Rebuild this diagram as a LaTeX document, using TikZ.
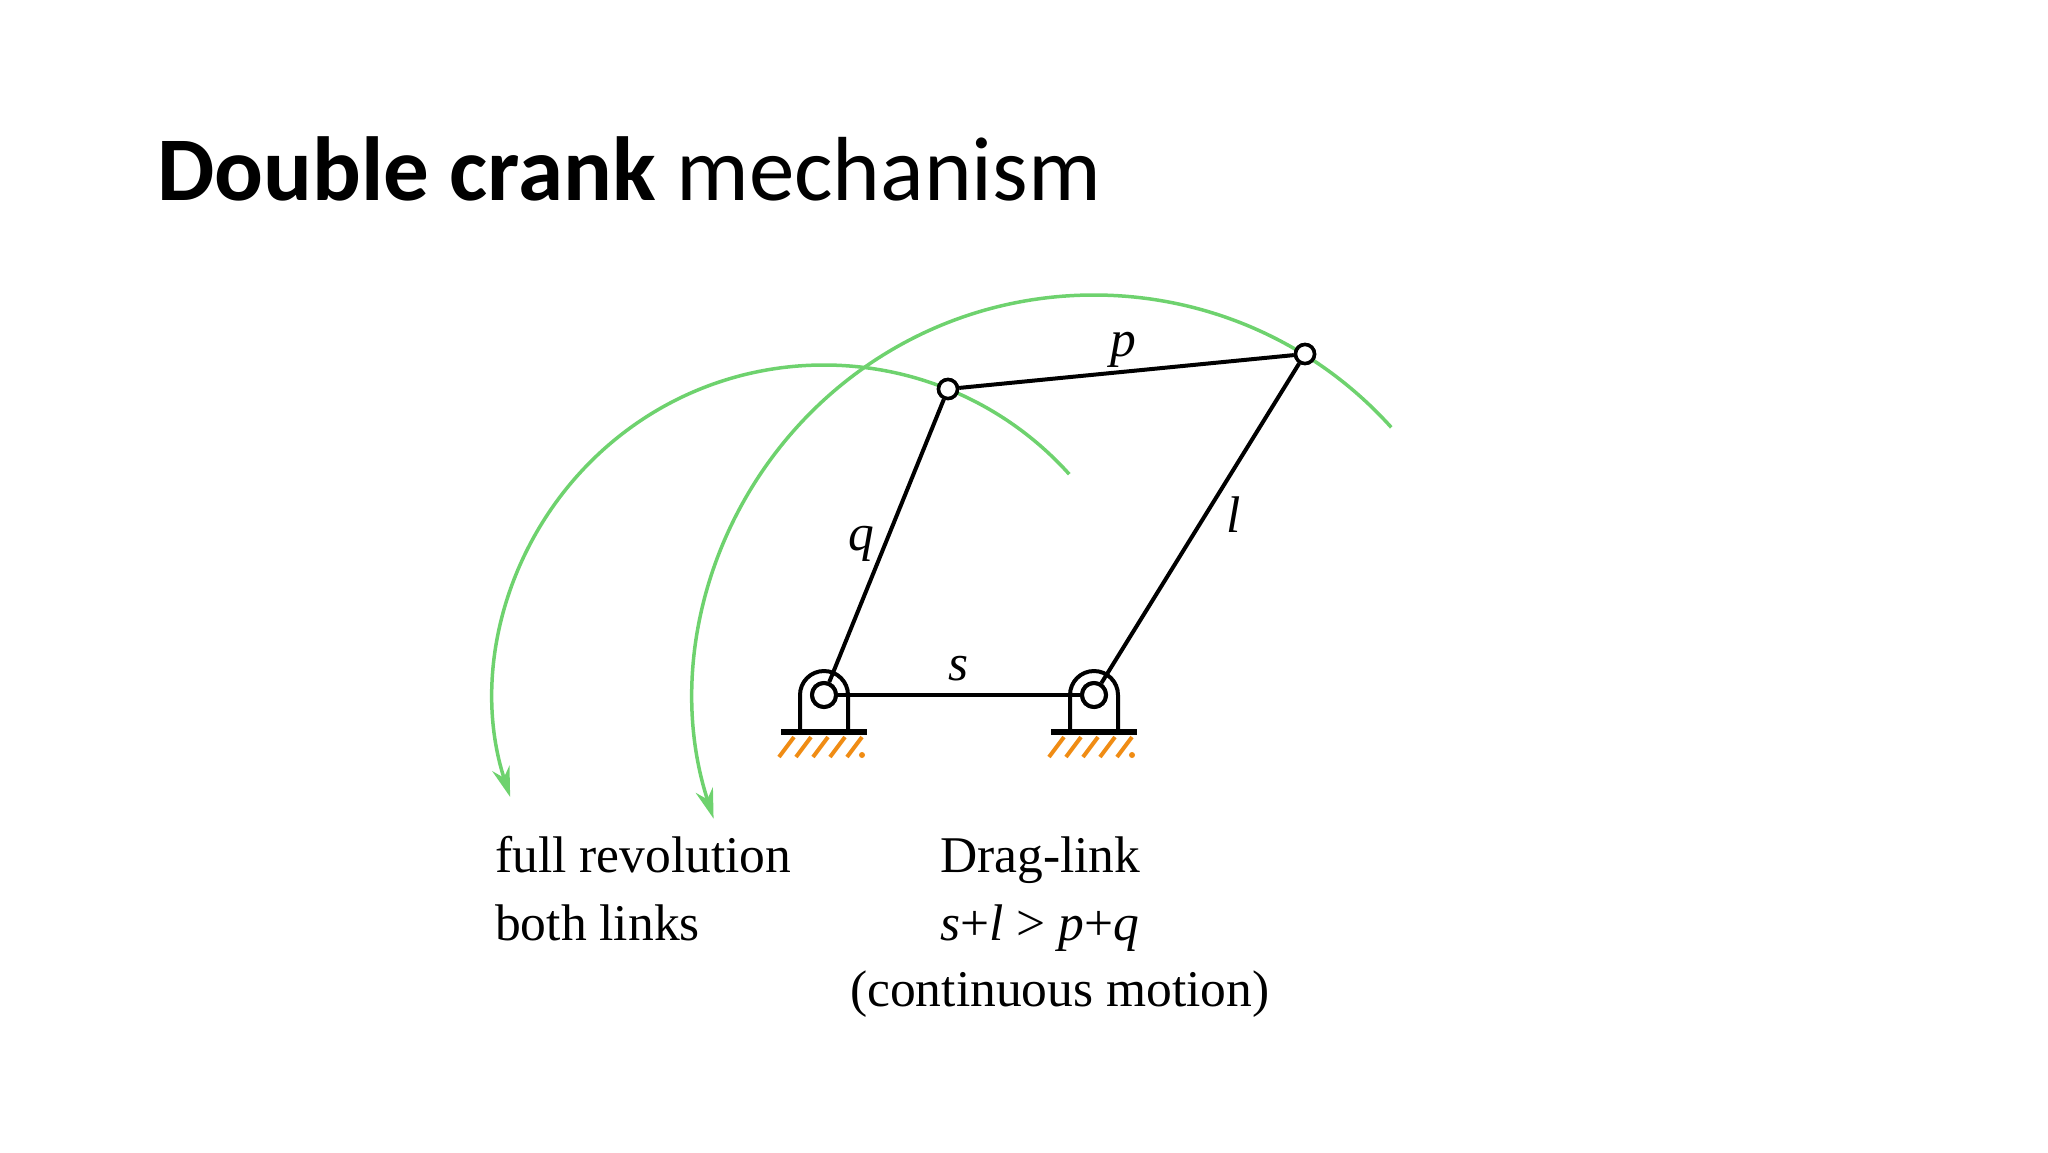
\documentclass[tikz,border=0pt]{standalone}
\usepackage{fontspec}
\setmainfont{Liberation Serif}
\newfontfamily\titlefont{Carlito}
\usetikzlibrary{arrows.meta,calc}
\definecolor{arcgreen}{RGB}{110,210,110}
\definecolor{hatch}{RGB}{240,140,20}
\tikzset{
  link/.style={line width=4pt,black},
  joint/.style={circle,draw,line width=4pt,fill=white,minimum size=24pt,inner sep=0pt},
  sjoint/.style={circle,draw,line width=3.5pt,fill=white,minimum size=19pt,inner sep=0pt},
  revarc/.style={arcgreen,line width=3.5pt,-{Stealth[length=30pt,width=18pt]}},
  lbl/.style={font=\fontsize{51.5}{60}\selectfont,inner sep=0pt,anchor=base west},
}
\newcommand{\housing}[1]{%
  \draw[link] ($(#1)+(-24,37)$) -- ($(#1)+(-24,0)$) arc[start angle=180,end angle=0,radius=24pt] -- ($(#1)+(24,37)$);
  \draw[line width=6pt] ($(#1)+(-43,37)$) -- ($(#1)+(43,37)$);
  \foreach \i in {0,...,4}{\draw[hatch,line width=4pt] ($(#1)+(-30+17*\i,42)$) -- ($(#1)+(-45+17*\i,62)$);}
  \fill[hatch] ($(#1)+(38,60)$) circle (3pt);
}
\begin{document}
\begin{tikzpicture}[x=1pt,y=-1pt]
\useasboundingbox (0,0) rectangle (2048,1152);
\node[anchor=base west,inner sep=0pt,font=\titlefont\fontsize{91}{100}\selectfont] (title) at (157,200) {\textbf{Double crank} mechanism};
\coordinate (A) at (824,695);
\coordinate (B) at (1094,695);
\coordinate (C) at (948,389);
\coordinate (D) at (1305,354);
\draw[revarc] ($(A)+(42:330 and -330)$) arc[start angle=42,end angle=198,radius=330pt];
\draw[revarc] ($(B)+(42:400 and -400)$) arc[start angle=42,end angle=198,radius=400pt];
\housing{A}
\housing{B}
\node[joint] (a) at (A) {};
\node[joint] (b) at (B) {};
\node[sjoint] (c) at (C) {};
\node[sjoint] (d) at (D) {};
\draw[link] (a) -- (b);
\draw[link] (a) -- (c);
\draw[link] (c) -- (d);
\draw[link] (b) -- (d);
\node[joint] at (A) {};
\node[joint] at (B) {};
\node[sjoint] at (C) {};
\node[sjoint] at (D) {};
\node[lbl] (lp) at (1110,356) {\textit{p}};
\node[lbl] (lq) at (848,550) {\textit{q}};
\node[lbl] (ll) at (1226,532) {\textit{l}};
\node[lbl] (ls) at (948,680) {\textit{s}};
\node[lbl] (t1) at (495,872) {full revolution};
\node[lbl] (t2) at (495,940) {both links};
\node[lbl] (t3) at (940,872) {Drag-link};
\node[lbl] (t4) at (940,940) {\textit{s}+\textit{l} > \textit{p}+\textit{q}};
\node[lbl] (t5) at (850,1006) {(continuous motion)};
\end{tikzpicture}
\end{document}
